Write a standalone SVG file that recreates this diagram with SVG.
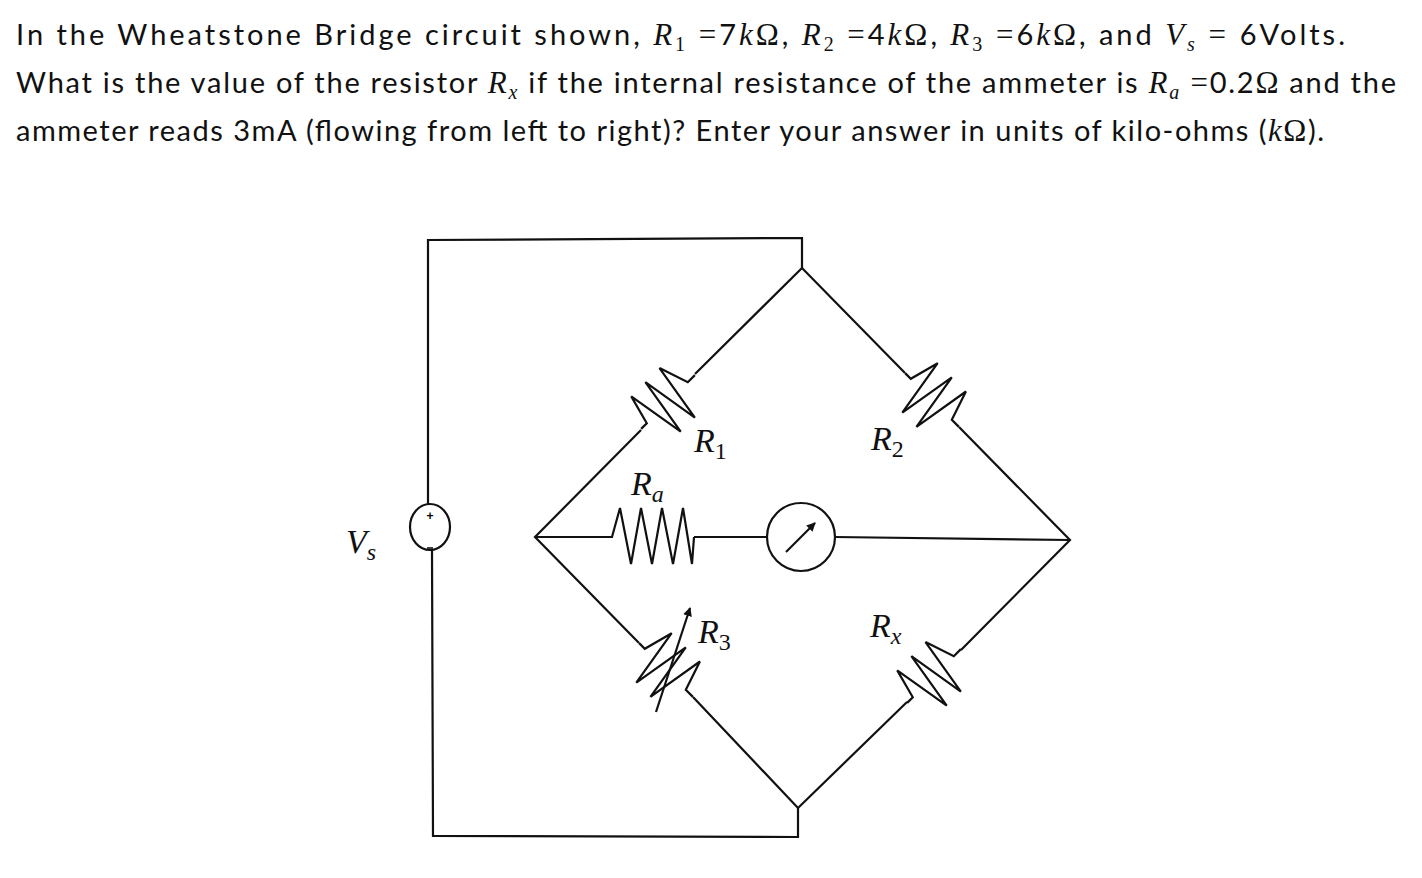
<svg xmlns="http://www.w3.org/2000/svg" width="1422" height="878" viewBox="0 0 1422 878">
<style>
.t{font-family:Lato,"Open Sans",sans-serif;font-size:29px;fill:#111}
.m{font-family:"Liberation Serif",serif;font-style:italic;font-size:31px}
.n{font-family:"Liberation Serif",serif;font-style:normal;font-size:31px}
.t .s{font-size:20px}
.w{fill:none;stroke:#111;stroke-width:2.2;stroke-linejoin:miter}
.lb{font-family:"Liberation Serif",serif;font-style:italic;font-size:34px;fill:#111}
.sb{font-size:24px;font-style:normal}
</style>
<defs>
<polyline id="zz" class="w" points="-38,0 -30,0 -22,-30 -12,30 -2,-30 8,30 18,-30 28,0 38,0"/>
<marker id="ah" markerWidth="9" markerHeight="9" refX="8" refY="4.5" orient="auto" markerUnits="userSpaceOnUse"><path d="M0,0 L9,4.5 L0,9 z" fill="#111"/></marker>
</defs>
<g id="question">
<text class="t" x="16" y="45" textLength="1329" lengthAdjust="spacing">In the Wheatstone Bridge circuit shown, <tspan class="m">R</tspan><tspan class="n s" dy="6">1</tspan><tspan class="n" dy="-6"> =</tspan>7<tspan class="m">k</tspan><tspan class="n">Ω</tspan>, <tspan class="m">R</tspan><tspan class="n s" dy="6">2</tspan><tspan class="n" dy="-6"> =</tspan>4<tspan class="m">k</tspan><tspan class="n">Ω</tspan>, <tspan class="m">R</tspan><tspan class="n s" dy="6">3</tspan><tspan class="n" dy="-6"> =</tspan>6<tspan class="m">k</tspan><tspan class="n">Ω</tspan>, and <tspan class="m">V</tspan><tspan class="m s" dy="6">s</tspan><tspan class="n" dy="-6"> = </tspan>6Volts.</text>
<text class="t" x="16" y="93" textLength="1380" lengthAdjust="spacing">What is the value of the resistor <tspan class="m">R</tspan><tspan class="m s" dy="6">x</tspan><tspan dy="-6"> if the internal resistance of the ammeter is </tspan><tspan class="m">R</tspan><tspan class="m s" dy="6">a</tspan><tspan class="n" dy="-6"> =</tspan>0.2<tspan class="n">Ω</tspan> and the</text>
<text class="t" x="16" y="141" textLength="1308" lengthAdjust="spacing">ammeter reads 3mA (flowing from left to right)?  Enter your answer in units of kilo-ohms (<tspan class="m">k</tspan><tspan class="n">Ω</tspan>).</text>
</g>
<g id="connectors">
<polyline class="w" points="428,505 428,240 802,238 802,268"/>
<polyline class="w" points="695,374 802,268 905,373"/>
<polyline class="w" points="959,427 1070,540 961,650"/>
<polyline class="w" points="641,430 535,537 639,643"/>
<polyline class="w" points="693,697 798,808 907,702"/>
<polyline class="w" points="798,808 798,837 433,836 432,550"/>
<polyline class="w" points="535,537 606,537"/>
<polyline class="w" points="694,537 767,537"/>
<polyline class="w" points="835,537 1070,540"/>
</g>
<g id="R1"><use href="#zz" transform="translate(668,402) rotate(-45)"/><text class="lb" x="694" y="452">R<tspan class="sb" dy="7">1</tspan></text></g>
<g id="R2"><use href="#zz" transform="translate(932,400) rotate(45)"/><text class="lb" x="871" y="450">R<tspan class="sb" dy="7">2</tspan></text></g>
<g id="R3"><use href="#zz" transform="translate(666,670) rotate(45)"/><line class="w" x1="656" y1="712" x2="690" y2="608" marker-end="url(#ah)"/><text class="lb" x="698" y="643">R<tspan class="sb" dy="7">3</tspan></text></g>
<g id="Rx"><use href="#zz" transform="translate(934,676) rotate(-45)"/><text class="lb" x="870" y="637">R<tspan class="sb" dy="7" style="font-style:italic">x</tspan></text></g>
<g id="Ra"><polyline class="w" points="606,537 612,537 620,508 631,564 641,508 652,564 662,508 673,564 683,508 692,564 694,537"/><text class="lb" x="631" y="495">R<tspan class="sb" dy="7" style="font-style:italic">a</tspan></text></g>
<g id="ammeter"><circle class="w" cx="801" cy="537" r="34"/><line class="w" x1="786" y1="552" x2="815" y2="523" marker-end="url(#ah)"/></g>
<g id="Vs"><ellipse class="w" cx="430" cy="527" rx="20" ry="23"/><text x="430" y="520" font-family="Liberation Sans,sans-serif" font-size="12" font-weight="bold" text-anchor="middle">+</text><line x1="427" y1="548" x2="433" y2="548" stroke="#111" stroke-width="1.6"/><text class="lb" x="346" y="553">V<tspan class="sb" dy="7" style="font-style:italic">s</tspan></text></g>
</svg>
